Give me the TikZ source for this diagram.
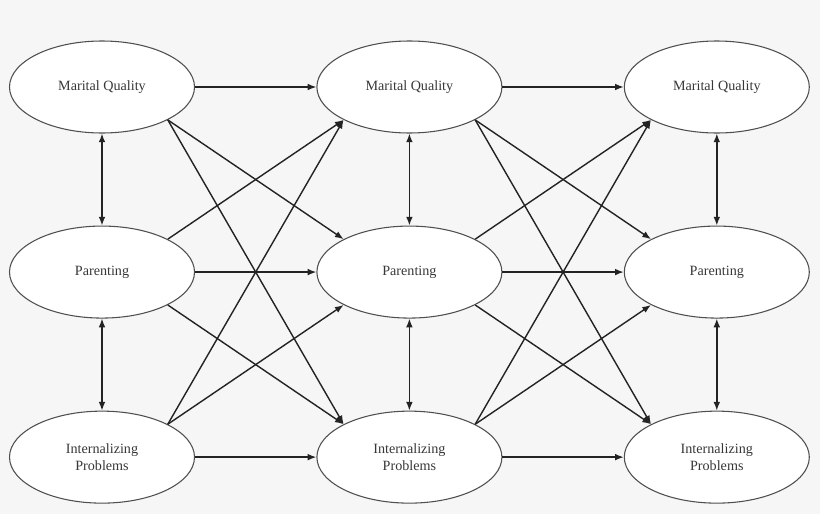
\documentclass[tikz,border=0pt]{standalone}
\usepackage{fontspec}
\setmainfont{Liberation Serif}
\usetikzlibrary{shapes.geometric,arrows.meta,positioning}
\definecolor{pathBg}{RGB}{246,246,246}
\definecolor{pathLine}{RGB}{35,35,35}
\definecolor{pathText}{RGB}{55,55,55}

\begin{document}
\begin{tikzpicture}[
  x=0.75pt, y=-0.75pt,
  var/.style={ellipse, draw=pathLine!80, line width=0.8pt, fill=white,
              minimum width=138.75pt, minimum height=69pt,
              align=center, font=\fontsize{10.6}{13.3}\selectfont,
              text=pathText},
  arr/.style={-{Latex[length=6.5pt,width=5pt]}, line width=1.05pt, pathLine},
  cov/.style={{Latex[length=6.5pt,width=5pt]}-{Latex[length=6.5pt,width=5pt]},
              line width=1.05pt, pathLine},
  node distance=69pt and 91pt
]
  \fill[pathBg] (0,0) rectangle (820,514);
  \useasboundingbox (0,0) rectangle (820,514);
  % first wave
  \node[var] (MQ1) at (102,87) {Marital Quality};
  \node[var, below=of MQ1] (PA1) {Parenting};
  \node[var, below=of PA1] (IP1) {Internalizing\\Problems};
  % second wave
  \node[var, right=of MQ1] (MQ2) {Marital Quality};
  \node[var, below=of MQ2] (PA2) {Parenting};
  \node[var, below=of PA2] (IP2) {Internalizing\\Problems};
  % third wave
  \node[var, right=of MQ2] (MQ3) {Marital Quality};
  \node[var, below=of MQ3] (PA3) {Parenting};
  \node[var, below=of PA3] (IP3) {Internalizing\\Problems};
  % within-wave correlations
  \foreach \c in {1,2,3} {
    \draw[cov] (MQ\c) -- (PA\c);
    \draw[cov] (PA\c) -- (IP\c);
  }
  % stability and cross-lagged paths
  \foreach \a/\b in {1/2,2/3} {
    \draw[arr] (MQ\a) -- (MQ\b);
    \draw[arr] (PA\a) -- (PA\b);
    \draw[arr] (IP\a) -- (IP\b);
    \draw[arr] (MQ\a.south east) -- (PA\b.north west);
    \draw[arr] (MQ\a.south east) -- (IP\b.north west);
    \draw[arr] (PA\a.north east) -- (MQ\b.south west);
    \draw[arr] (PA\a.south east) -- (IP\b.north west);
    \draw[arr] (IP\a.north east) -- (MQ\b.south west);
    \draw[arr] (IP\a.north east) -- (PA\b.south west);
  }
\end{tikzpicture}
\end{document}
